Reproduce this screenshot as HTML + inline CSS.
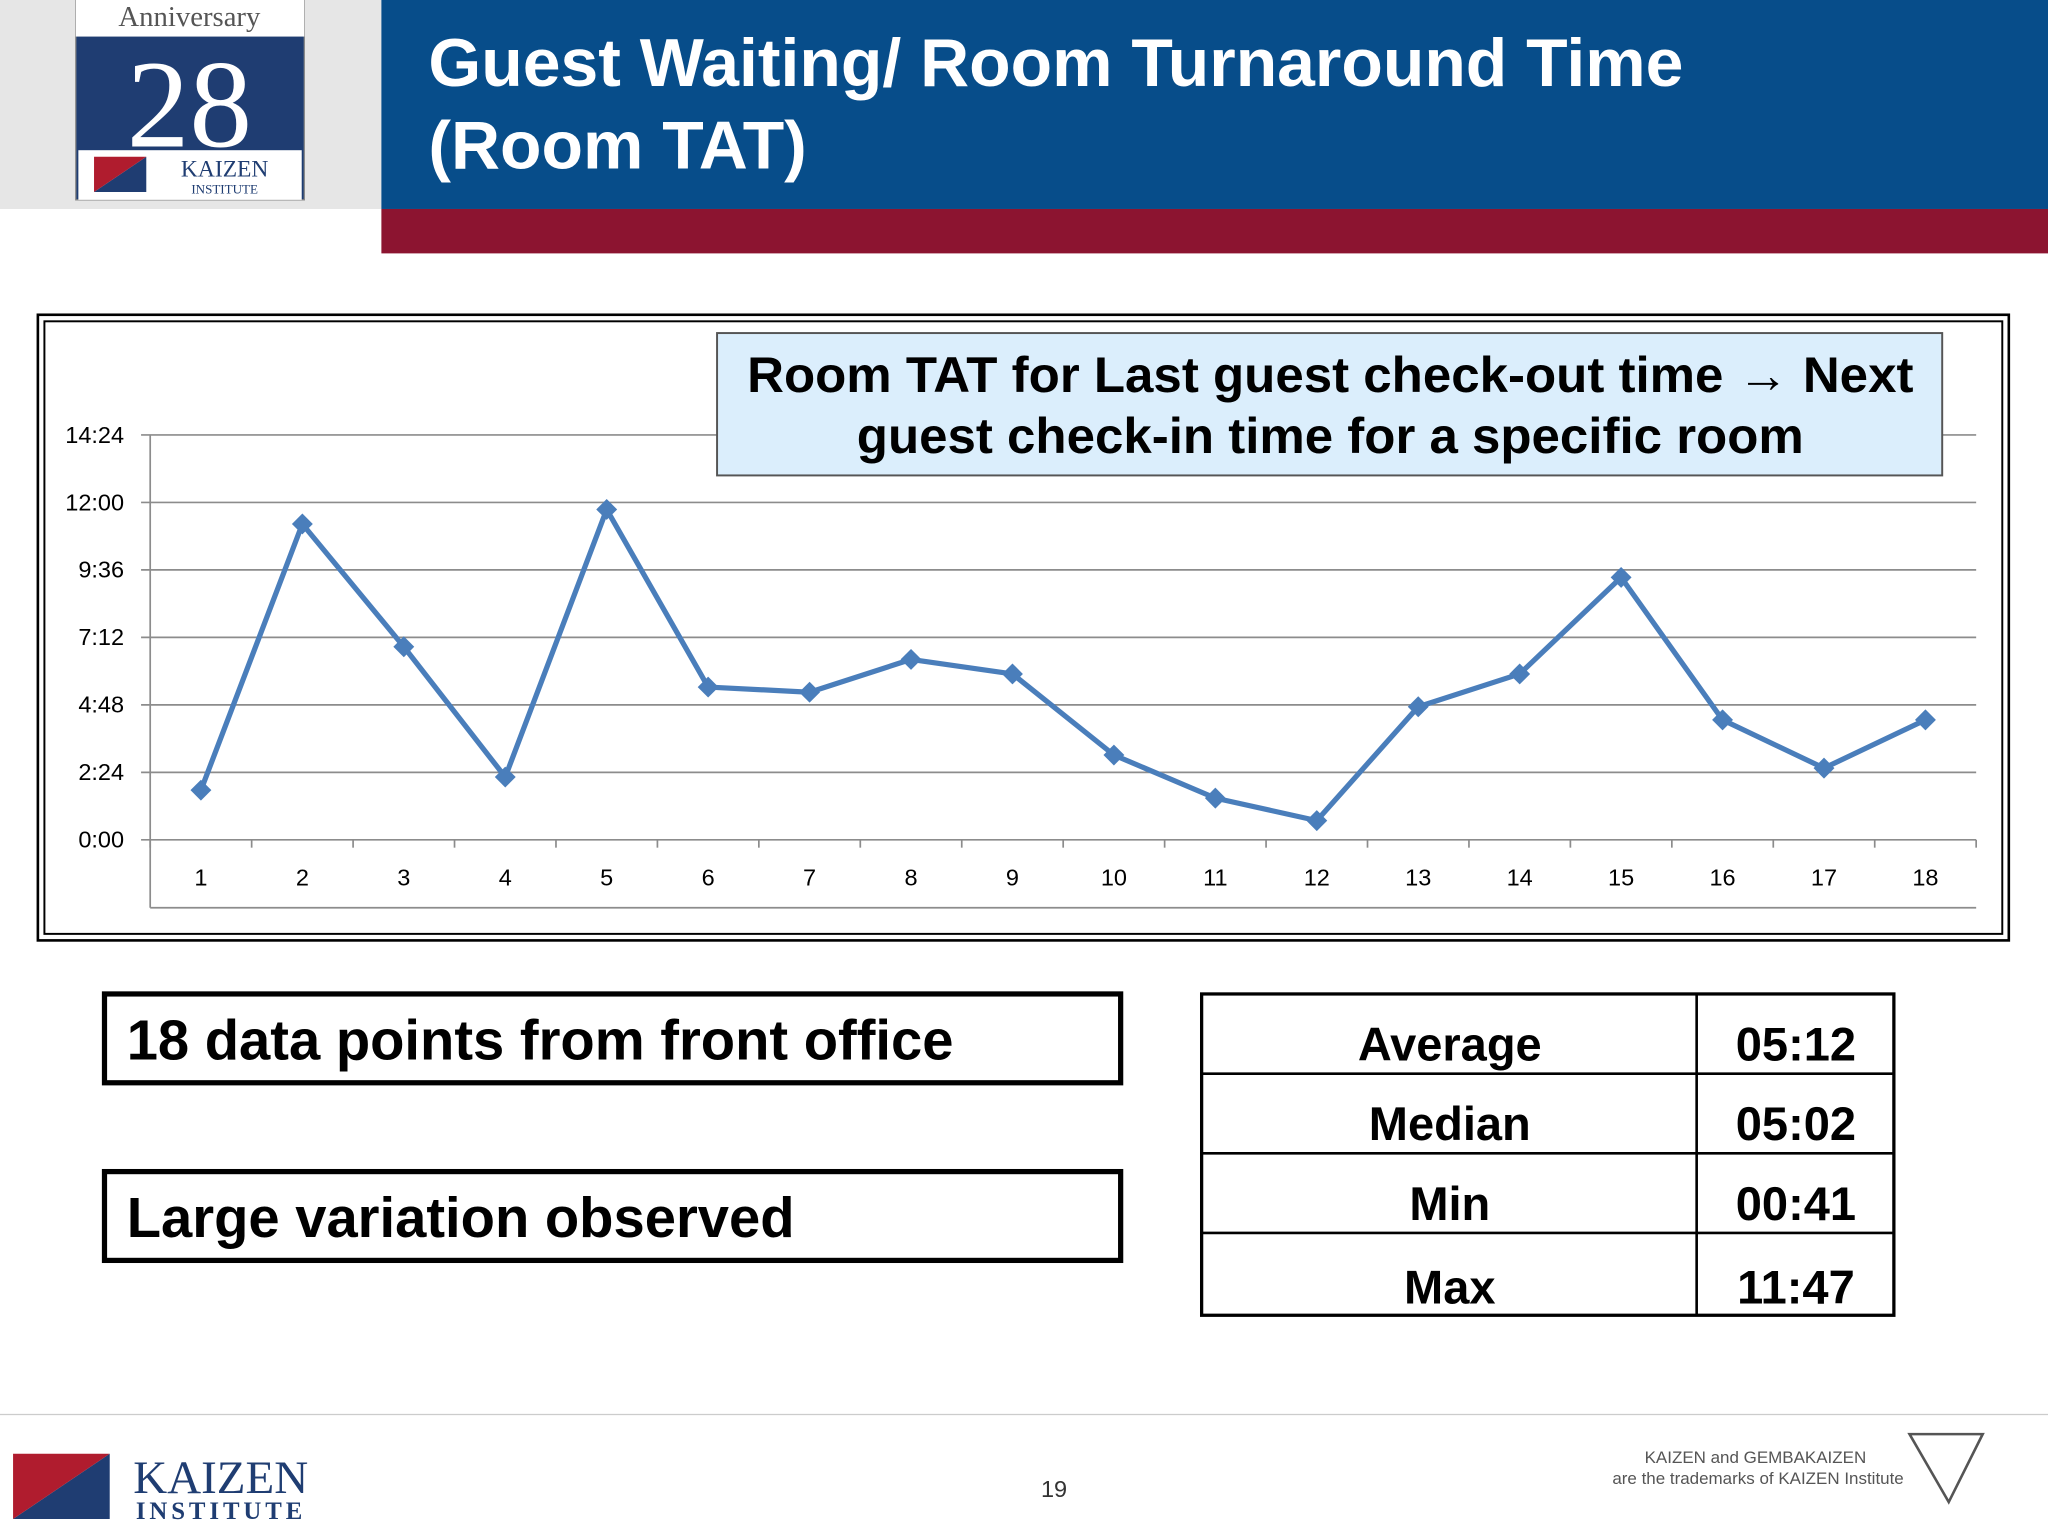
<!DOCTYPE html>
<html><head><meta charset="utf-8"><style>
html,body{margin:0;padding:0;background:#fff}
svg{display:block}
text{font-family:"Liberation Sans",sans-serif}
</style></head><body>
<svg id="s" width="2048" height="1536" viewBox="0 0 1568 1176" xmlns="http://www.w3.org/2000/svg">
<rect x="0" y="0" width="292" height="160" fill="#e6e6e6"/>
<g>
<rect x="58" y="0" width="175" height="153" fill="#1f3d72" stroke="#888"/>
<rect x="58" y="0" width="175" height="28" fill="#fff"/>
<text x="145" y="20" font-size="22" fill="#555" text-anchor="middle" style="font-family:'Liberation Serif',serif">Anniversary</text>
<text x="145" y="112" font-size="96" fill="#fff" text-anchor="middle" style="font-family:'Liberation Serif',serif">28</text>
<rect x="60" y="115" width="171" height="38" fill="#fff"/>
<polygon points="72,147 112,120 112,147" fill="#1f3d72"/><polygon points="72,120 112,120 72,147" fill="#b01c2e"/>
<text x="172" y="135" font-size="18" fill="#1f3d72" text-anchor="middle" style="font-family:'Liberation Serif',serif">KAIZEN</text>
<text x="172" y="148" font-size="10" fill="#1f3d72" text-anchor="middle" style="font-family:'Liberation Serif',serif">INSTITUTE</text>
</g>
<rect x="292" y="0" width="1276" height="160" fill="#074d8a"/>
<rect x="292" y="160" width="1276" height="34" fill="#8c1430"/>
<text x="328" y="66" font-size="52" font-weight="bold" fill="#fff">Guest Waiting/ Room Turnaround Time</text>
<text x="328" y="129" font-size="52" font-weight="bold" fill="#fff">(Room TAT)</text>

<rect x="29" y="241" width="1509" height="479" fill="#fff" stroke="#000" stroke-width="2"/>
<rect x="34" y="246" width="1499" height="469" fill="none" stroke="#000" stroke-width="1.5"/>
<g id="chart"></g>
<rect x="549" y="255" width="938" height="109" fill="#dbeefc" stroke="#555" stroke-width="1.5"/>
<text x="572" y="300" font-size="38" font-weight="bold" fill="#000" textLength="893" lengthAdjust="spacingAndGlyphs">Room TAT for Last guest check-out time → Next</text>
<text x="656" y="347" font-size="38" font-weight="bold" fill="#000" textLength="725" lengthAdjust="spacingAndGlyphs">guest check-in time for a specific room</text>

<rect x="80" y="761" width="778" height="68" fill="#fff" stroke="#000" stroke-width="4"/>
<text x="97" y="811" font-size="43" font-weight="bold">18 data points from front office</text>
<rect x="80" y="897" width="778" height="68" fill="#fff" stroke="#000" stroke-width="4"/>
<text x="97" y="947" font-size="43" font-weight="bold">Large variation observed</text>

<g font-size="36" font-weight="bold">
<rect x="920" y="761" width="530" height="246" fill="#fff" stroke="#000" stroke-width="2.5"/>
<line x1="1299" y1="761" x2="1299" y2="1007" stroke="#000" stroke-width="2"/>
<line x1="920" y1="822" x2="1450" y2="822" stroke="#000" stroke-width="2"/>
<line x1="920" y1="883" x2="1450" y2="883" stroke="#000" stroke-width="2"/>
<line x1="920" y1="944" x2="1450" y2="944" stroke="#000" stroke-width="2"/>
<text x="1110" y="812" text-anchor="middle">Average</text><text x="1375" y="812" text-anchor="middle">05:12</text>
<text x="1110" y="873" text-anchor="middle">Median</text><text x="1375" y="873" text-anchor="middle">05:02</text>
<text x="1110" y="934" text-anchor="middle">Min</text><text x="1375" y="934" text-anchor="middle">00:41</text>
<text x="1110" y="998" text-anchor="middle">Max</text><text x="1375" y="998" text-anchor="middle">11:47</text>
</g>

<line x1="0" y1="1083" x2="1568" y2="1083" stroke="#ccc"/>
<g>
<polygon points="10,1163 84,1113 84,1163" fill="#1f3d72"/><polygon points="10,1113 84,1113 10,1163" fill="#b01c2e"/>
<text x="102" y="1143" font-size="36" fill="#1f3d72" style="font-family:'Liberation Serif',serif">KAIZEN</text>
<text x="104" y="1163" font-size="19" fill="#1f3d72" font-weight="bold" letter-spacing="3" style="font-family:'Liberation Serif',serif">INSTITUTE</text>
</g>
<text x="807" y="1146" font-size="18" fill="#333" text-anchor="middle">19</text>
<text x="1344" y="1120" font-size="13" fill="#555" text-anchor="middle">KAIZEN and GEMBAKAIZEN</text>
<text x="1346" y="1136" font-size="13" fill="#555" text-anchor="middle">are the trademarks of KAIZEN Institute</text>
<polygon points="1462,1098 1518,1098 1492,1150" fill="none" stroke="#555" stroke-width="2"/>
</svg>
<script>
const categories = ['1','2','3','4','5','6','7','8','9','10','11','12','13','14','15','16','17','18'];
const tatMinutes = [106,674,412,134,705,326,315,385,354,181,89,41,284,354,560,256,153,256];
const yTickLabels = ['0:00','2:24','4:48','7:12','9:36','12:00','14:24'];
const yTickValues = [0,144,288,432,576,720,864];
const NS='http://www.w3.org/2000/svg';
const g=document.getElementById('chart');
const x0=115,x1=1513,y0=643,yTop=333,maxV=864;
const band=(x1-x0)/categories.length;
const xs=i=>x0+band*(i+0.5);
const ys=v=>y0-(v/maxV)*(y0-yTop);
function mk(t,a){const e=document.createElementNS(NS,t);for(const k in a)e.setAttribute(k,a[k]);g.appendChild(e);return e;}
yTickValues.forEach((v,i)=>{
 const l=mk('line',{x1:108,x2:x1,y1:ys(v),y2:ys(v),stroke:'#8c8c8c','stroke-width':1.3});
 
 
 const t=mk('text',{x:95,y:ys(v)+6,'font-size':18,'text-anchor':'end',fill:'#000'});
 t.textContent=yTickLabels[i];
 
 
});
mk('line',{x1:x0,x2:x0,y1:yTop,y2:695,stroke:'#8c8c8c','stroke-width':1.3});
mk('line',{x1:x0,x2:x1,y1:695,y2:695,stroke:'#8c8c8c','stroke-width':1.3});
for(let i=0;i<=categories.length;i++){mk('line',{x1:x0+band*i,x2:x0+band*i,y1:y0,y2:y0+6,stroke:'#8c8c8c','stroke-width':1.3});}
categories.forEach((c,i)=>{
 const t=mk('text',{x:xs(i),y:678,'font-size':18,'text-anchor':'middle',fill:'#000'});
 t.textContent=c;
 
 
});
const line=mk('polyline',{points:tatMinutes.map((v,i)=>xs(i)+','+ys(v)).join(' '),fill:'none',stroke:'#4a7ebb','stroke-width':4,'stroke-linejoin':'round'});


tatMinutes.forEach((v,i)=>{
 const x=xs(i),y=ys(v);
 const p=mk('polygon',{points:`${x},${y-8} ${x+8},${y} ${x},${y+8} ${x-8},${y}`,fill:'#4a7ebb'});
 
 
});
</script>
</body></html>
